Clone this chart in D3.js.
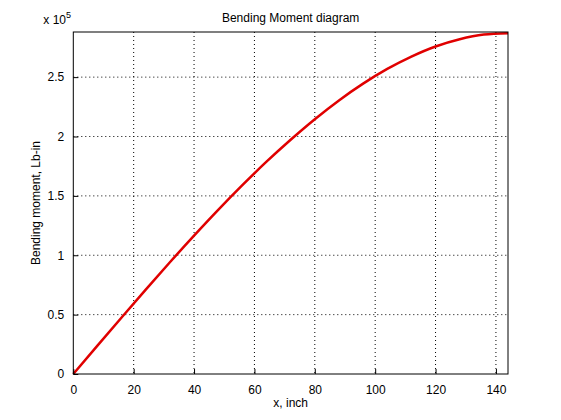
<!DOCTYPE html><html><head><meta charset="utf-8">
<script src="https://cdn.jsdelivr.net/npm/d3@7"></script>
<style>body{margin:0;background:#fff}text{font-family:Arial,"Liberation Sans",sans-serif}</style></head><body>
<svg id="c" width="561" height="420"></svg>
<script>
const xs=[0,8,16,24,32,40,48,56,64,72,80,88,96,104,112,120,128,136,144];
const moment=[0,0.239,0.476,0.711,0.941,1.165,1.382,1.590,1.788,1.973,2.146,2.304,2.445,2.569,2.673,2.758,2.819,2.858,2.87];
const xTicks=[0,20,40,60,80,100,120,140];
const yTicks=[0,0.5,1,1.5,2,2.5];
const svg=d3.select("#c");
const L=73.3,R=508,T=32,B=374;
const x=d3.scaleLinear().domain([0,144]).range([L,R]);
const y=d3.scaleLinear().domain([0,2.88]).range([B,T]);
svg.append("rect").attr("x",L).attr("y",T).attr("width",R-L).attr("height",B-T).attr("fill","#fff");
const g=svg.append("g").attr("stroke","#000").attr("stroke-width",1).attr("stroke-dasharray","1,3");
xTicks.slice(1).forEach(v=>g.append("line").attr("x1",x(v)).attr("x2",x(v)).attr("y1",T).attr("y2",B));
yTicks.slice(1).forEach(v=>g.append("line").attr("x1",L).attr("x2",R).attr("y1",y(v)).attr("y2",y(v)));
const line=d3.line().x((d,i)=>x(xs[i])).y(d=>y(d)).curve(d3.curveMonotoneX);
svg.append("path").datum(moment).attr("d",line).attr("fill","none").attr("stroke","#e00000").attr("stroke-width",2.5);
svg.append("rect").attr("x",L).attr("y",T).attr("width",R-L).attr("height",B-T).attr("fill","none").attr("stroke","#000");
const xa=svg.append("g").attr("transform",`translate(0,${B})`).call(d3.axisBottom(x).tickValues(xTicks).tickSize(-5).tickPadding(9).tickFormat(d3.format("d")));
const ya=svg.append("g").attr("transform",`translate(${L},0)`).call(d3.axisLeft(y).tickValues(yTicks).tickSize(-5).tickPadding(9).tickFormat(d=>d));
[xa,ya].forEach(a=>{a.select(".domain").remove();a.selectAll("text").attr("font-size",12).attr("font-family","Arial").attr("fill","#000");});
xa.selectAll("text").attr("dy","0.9em");
svg.append("text").attr("x",L-30).attr("y",24).attr("font-size",12).text("x 10").append("tspan").attr("dy",-6).attr("font-size",9).text("5");
svg.append("text").attr("x",(L+R)/2).attr("y",22).attr("text-anchor","middle").attr("font-size",12).text("Bending Moment diagram");
svg.append("text").attr("x",(L+R)/2).attr("y",407).attr("text-anchor","middle").attr("font-size",12).text("x, inch");
svg.append("text").attr("transform",`translate(40,${(T+B)/2}) rotate(-90)`).attr("text-anchor","middle").attr("font-size",12).text("Bending moment, Lb-in");
</script></body></html>
